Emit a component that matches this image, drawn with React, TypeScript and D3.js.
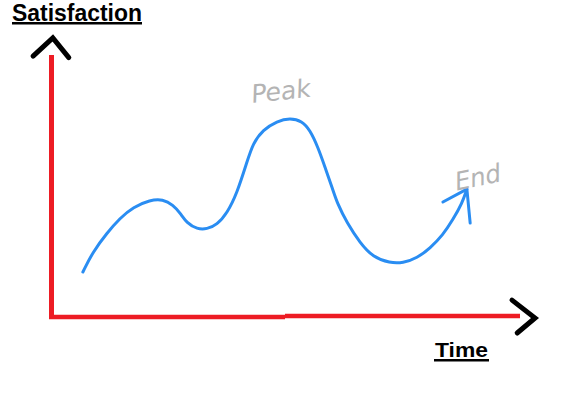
import React from "react";
import * as d3 from "d3";

// Curve: time (0-100) vs satisfaction (0-100)
const times = [7.0, 9.1, 12.1, 14.9, 17.7, 21.3, 24.0, 26.2, 27.7, 29.1, 31.3, 33.4, 35.5, 37.7, 39.8, 41.9, 43.2, 45.3, 48.3, 51.1, 53.6, 55.3, 57.0, 58.5, 60.2, 61.1, 63.2, 66.0, 68.7, 72.3, 75.1, 78.1, 80.9, 83.6, 85.7, 87.7, 88.7];
const satisfaction = [17.5, 25.1, 32.3, 38.0, 42.2, 44.9, 45.2, 43.0, 39.9, 36.1, 33.8, 33.8, 35.4, 39.9, 47.5, 59.3, 66.5, 71.5, 74.9, 76.0, 74.9, 71.5, 65.0, 57.4, 48.7, 43.7, 36.1, 28.5, 23.2, 20.9, 20.9, 22.8, 26.6, 31.6, 37.3, 43.7, 49.0];
// Arrow head at the end of the curve
const headTimes = [83.6, 88.7, 89.4];
const headSatisfaction = [44.1, 49.0, 36.1];
// Labels
const annotations = ["Peak", "End"];
const axisTitles = ["Satisfaction", "Time"];

export default function App() {
  const W = 571, H = 393;
  const x = d3.scaleLinear().domain([0, 100]).range([50, 520]);
  const y = d3.scaleLinear().domain([0, 100]).range([318, 55]);

  const curvePts: [number, number][] = times.map((t, i) => [x(t), y(satisfaction[i])]);
  const line = d3.line<[number, number]>().curve(d3.curveBasis);
  const straight = d3.line<[number, number]>();
  const headPts: [number, number][] = headTimes.map((t, i) => [x(t), y(headSatisfaction[i])]);

  const red = "#ed1c24";
  const blue = "#2a8df2";
  const x0 = x(0) + 1.5;

  return (
    <svg width={W} height={H} style={{ position: "absolute", left: 0, top: 0, background: "#fff" }}>
      <rect width={W} height={H} fill="#fff" />
      {/* axes */}
      <path d={straight([[x0, y(100)], [x0, y(0) + 1]])!} stroke={red} strokeWidth={5} fill="none" />
      <path d={straight([[x(0) - 1, y(0) - 1], [x(50), y(0) - 1]])!} stroke={red} strokeWidth={4.5} fill="none" />
      <path d={straight([[x(50), y(0) - 2], [x(100), y(0) - 2]])!} stroke={red} strokeWidth={4.5} fill="none" />
      {/* black arrowheads */}
      <path d={straight([[x(-3.6), y(99.6)], [x(0.6), y(106.5)], [x(4), y(99)]])!} stroke="#000" strokeWidth={5} fill="none" strokeLinecap="round" strokeLinejoin="miter" />
      <path d={straight([[x(98.3), y(6.8)], [x(103.2), y(0)], [x(99.4), y(-5.7)]])!} stroke="#000" strokeWidth={5} fill="none" strokeLinecap="round" strokeLinejoin="miter" />
      {/* curve */}
      <path d={line(curvePts)!} stroke={blue} strokeWidth={3} fill="none" strokeLinecap="round" strokeLinejoin="round" />
      <path d={straight(headPts)!} stroke={blue} strokeWidth={3} fill="none" strokeLinecap="round" strokeLinejoin="round" />
      {/* titles */}
      <text x={12} y={21} fontFamily="'Liberation Sans', Arial, sans-serif" fontWeight={700} fontSize={23} fill="#000" textLength={130} lengthAdjust="spacingAndGlyphs">{axisTitles[0]}</text>
      <rect x={12} y={22} width={130} height={2.5} fill="#000" />
      <text x={435} y={357} fontFamily="'Liberation Sans', Arial, sans-serif" fontWeight={700} fontSize={19.5} fill="#000" textLength={53} lengthAdjust="spacingAndGlyphs">{axisTitles[1]}</text>
      <rect x={434} y={359} width={55} height={2.5} fill="#000" />
      {/* annotations */}
      <text x={0} y={0} transform="translate(251,103) rotate(-6) skewX(-8)" fontFamily="'DejaVu Sans', sans-serif" fontSize={25} fill="#b4b4b4" textLength={60} lengthAdjust="spacingAndGlyphs">{annotations[0]}</text>
      <text x={0} y={0} transform="translate(455,191) rotate(-12) skewX(-12)" fontFamily="'DejaVu Sans', sans-serif" fontSize={25} fill="#b4b4b4" textLength={47} lengthAdjust="spacingAndGlyphs">{annotations[1]}</text>
    </svg>
  );
}
